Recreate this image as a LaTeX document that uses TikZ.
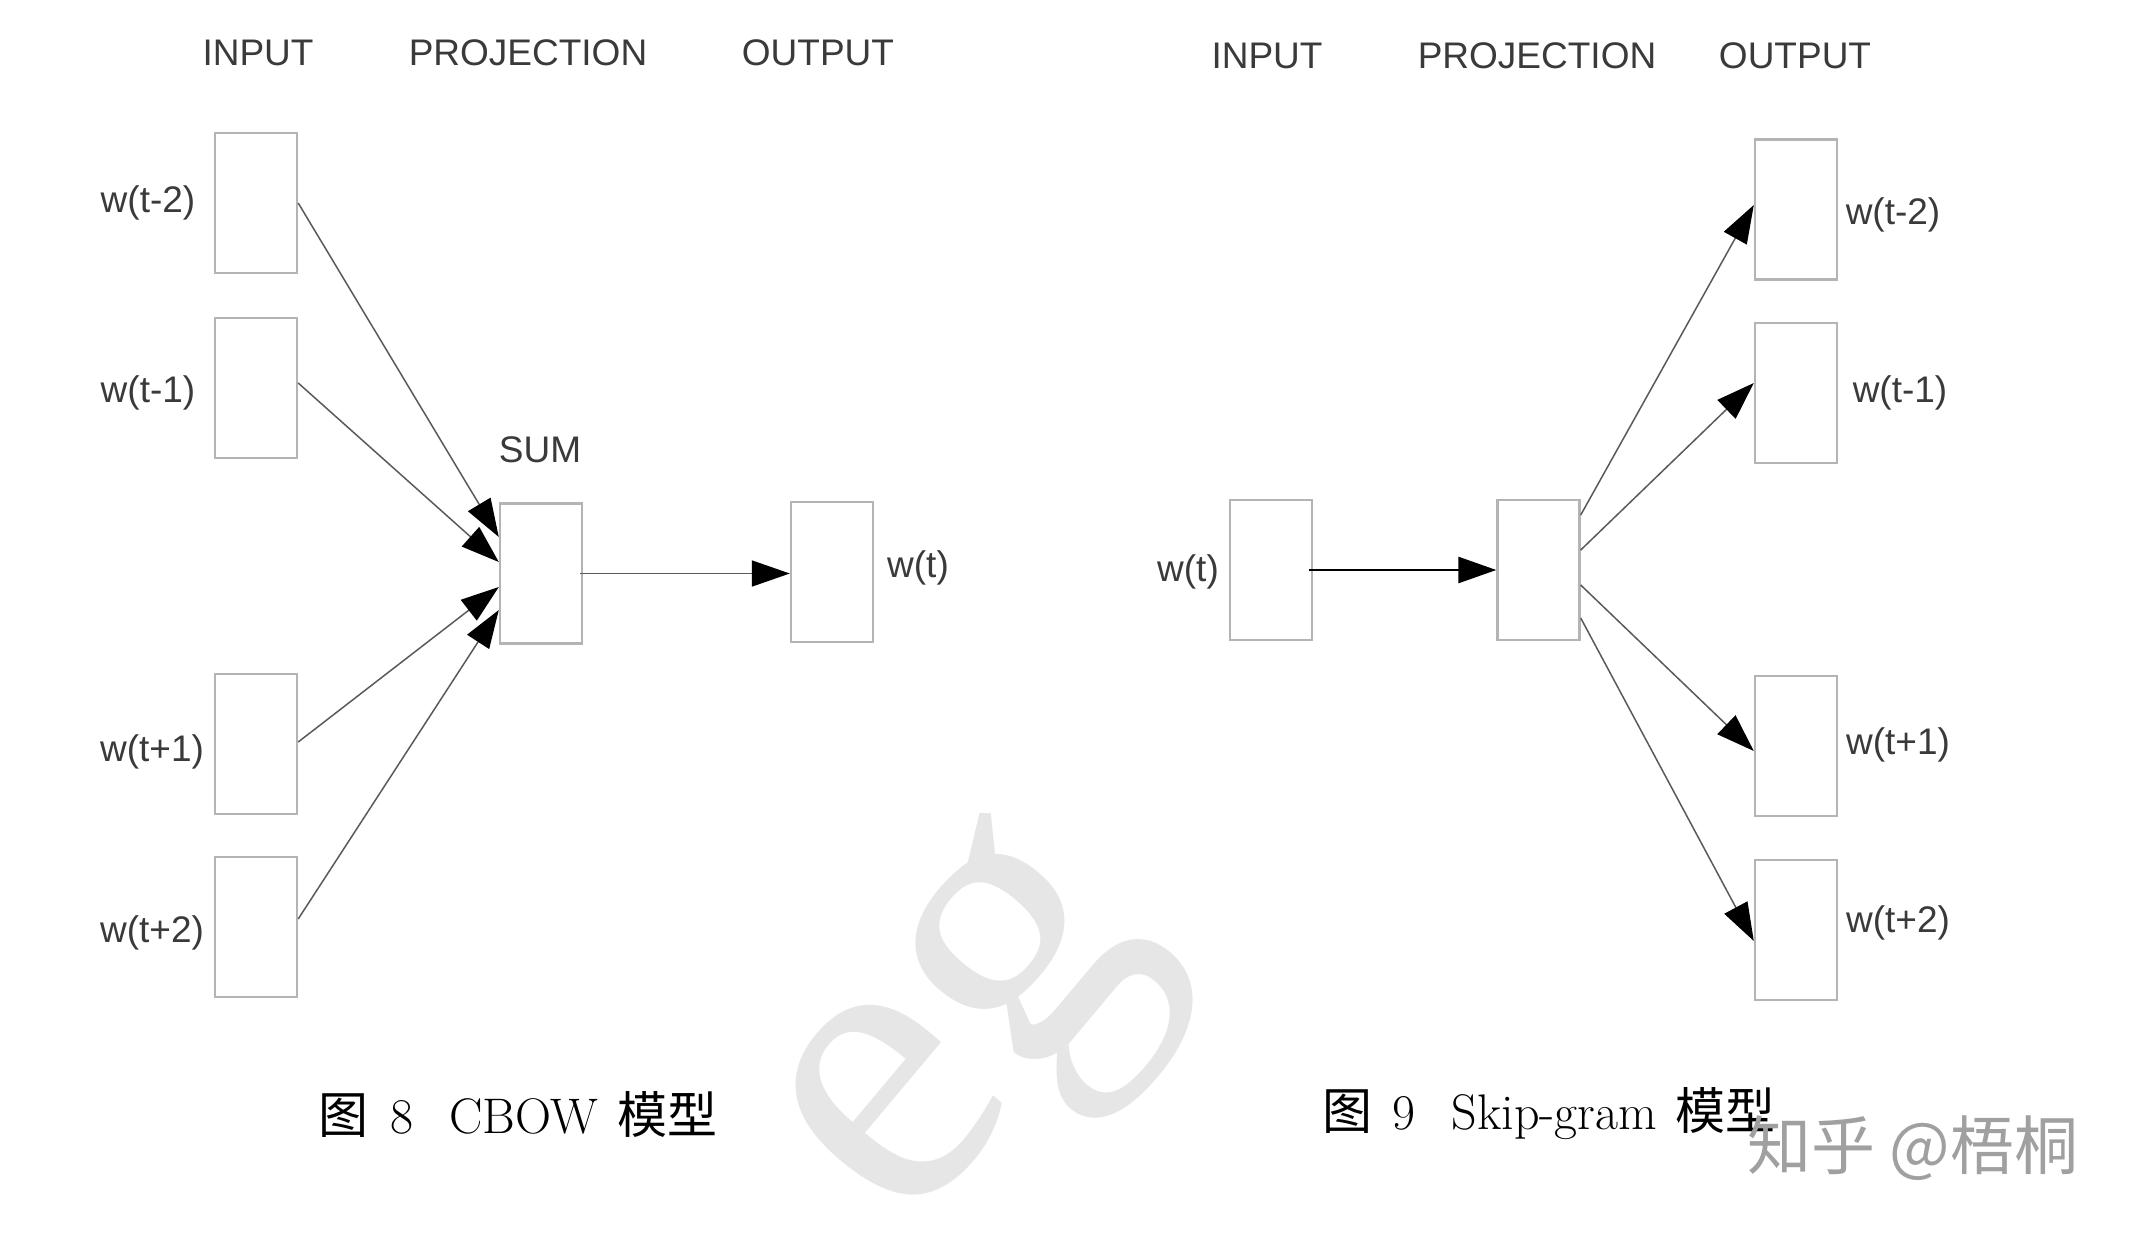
\documentclass[tikz,border=0pt]{standalone}
\usepackage{fontspec}
\newfontfamily\arialf{Liberation Sans}
\newfontfamily\timesf{Liberation Serif}
\newfontfamily\cjk{Noto Sans CJK SC}
\usetikzlibrary{arrows.meta,calc}
\definecolor{boxgray}{HTML}{B4B4B4}
\definecolor{linegray}{HTML}{5A5A5A}
\definecolor{labelgray}{HTML}{3A3A3A}
\definecolor{wmgray}{HTML}{E6E6E6}
\definecolor{zhgray}{HTML}{A0A0A0}
\begin{document}
\begin{tikzpicture}[x=0.5pt,y=-0.5pt,
  wbox/.style={draw=boxgray, line width=1.2pt, fill=white, minimum width=41pt, minimum height=70pt, inner sep=0pt},
  lbl/.style={text=labelgray, font=\arialf\fontsize{18.5}{22}\selectfont, inner sep=0pt},
  conn/.style={draw=linegray, line width=0.75pt, -{Triangle[length=19pt,width=13pt,color=black]}},
  capt/.style={text=black, font=\fontsize{25}{29}\selectfont, inner sep=0pt}]
\useasboundingbox (0,0) rectangle (2136,1232);
\clip (0,0) rectangle (2136,1232);
\fill[white] (0,0) rectangle (2136,1232);
% faint background watermark
\node[rotate=50, text=wmgray, font=\timesf\fontsize{210}{210}\selectfont, inner sep=0pt] (wm) at (985,1045) {eg};

% ---------- CBOW ----------
\node[lbl] (hin1) at (258,53) {INPUT};
\node[lbl] (hpr1) at (528,53) {PROJECTION};
\node[lbl] (hou1) at (818,53) {OUTPUT};

\node[wbox] (i1) at (256,203) {};
\node[wbox] (i2) at (256,388) {};
\node[wbox] (i3) at (256,744) {};
\node[wbox] (i4) at (256,927) {};
\node[wbox] (sum) at (541,573.5) {};
\node[wbox] (out) at (832,572) {};

\node[lbl] (li1) at (148,203) {w(t-2)};
\node[lbl] (li2) at (148,393) {w(t-1)};
\node[lbl] (li3) at (152,752) {w(t+1)};
\node[lbl] (li4) at (152,933) {w(t+2)};
\node[lbl] (lsum) at (540,450) {SUM};
\node[lbl] (lout) at (918,568) {w(t)};

\draw[conn] (i1.east) -- ([yshift=18.25pt]sum.west);
\draw[conn] ([yshift=2.5pt]i2.east) -- ([yshift=5.75pt]sum.west);
\draw[conn] ([yshift=1pt]i3.east) -- ([yshift=-6.75pt]sum.west);
\draw[conn] ([yshift=4pt]i4.east) -- ([yshift=-18.25pt]sum.west);
\draw[conn, line width=0.9pt] ([xshift=-1.5pt]sum.east) -- (sum.east -| out.west);

% ---------- Skip-gram ----------
\node[lbl] (hin2) at (1267,56) {INPUT};
\node[lbl] (hpr2) at (1537,56) {PROJECTION};
\node[lbl] (hou2) at (1795,56) {OUTPUT};

\node[wbox] (in) at (1271,570) {};
\node[wbox] (proj) at (1538.5,570) {};
\node[wbox] (o1) at (1796,209.5) {};
\node[wbox] (o2) at (1796,393) {};
\node[wbox] (o3) at (1796,746) {};
\node[wbox] (o4) at (1796,930) {};

\node[lbl] (lin) at (1188,572) {w(t)};
\node[lbl] (lo1) at (1893,215) {w(t-2)};
\node[lbl] (lo2) at (1900,393) {w(t-1)};
\node[lbl] (lo3) at (1898,745) {w(t+1)};
\node[lbl] (lo4) at (1898,923) {w(t+2)};

\draw[conn, draw=black, line width=1.4pt] ([xshift=-2pt]in.east) -- (proj.west);
\draw[conn] ([yshift=27.5pt]proj.east) -- ([yshift=2.25pt]o1.west);
\draw[conn] ([yshift=10pt]proj.east) -- ([yshift=5pt]o2.west);
\draw[conn] ([yshift=-7.5pt]proj.east) -- ([yshift=-2.5pt]o3.west);
\draw[conn] ([yshift=-24pt]proj.east) -- ([yshift=-5.5pt]o4.west);

% ---------- captions ----------
\node[capt] (cap1) at (518,1114) {{\cjk 图}\hspace{11pt}8\hspace{18pt}CBOW\hspace{10pt}{\cjk 模型}};
\node[capt] (cap2) at (1549,1114) {{\cjk 图}\hspace{10pt}9\hspace{18pt}Skip-gram\hspace{9pt}{\cjk 模型}};
\node[text=zhgray, font=\cjk\fontsize{32}{36}\selectfont, inner sep=0pt] (zh) at (1913,1148) {知乎 @梧桐};
\end{tikzpicture}
\end{document}
